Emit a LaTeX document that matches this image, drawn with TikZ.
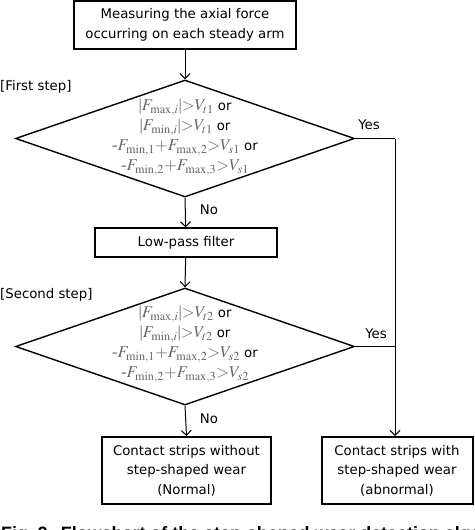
\documentclass[tikz,border=0pt]{standalone}
\usepackage{mathptmx}
\usepackage{fontspec}
\setmainfont{DejaVu Sans}
\newfontfamily\capfont{Liberation Sans}
\newfontfamily\hyfont{Liberation Serif}
\usetikzlibrary{arrows.meta,shapes.geometric}
\begin{document}
\begin{tikzpicture}[x=1pt,y=-1pt,
  every node/.style={font=\fontsize{13.3}{19.5}\selectfont},
  procbox/.style={draw, line width=1.3pt, inner sep=0pt, align=center},
  endbox/.style={draw, line width=2pt, inner sep=0pt, align=center},
  decide/.style={draw, diamond, line width=1.4pt, inner sep=0pt},
  condtext/.style={align=center, inner sep=0pt, font=\fontsize{13.3}{20}\selectfont},
  lbl/.style={inner sep=0pt},
  flow/.style={line width=1pt, -{Straight Barb[length=5pt,width=10pt,line width=1pt]}},
  plain/.style={line width=1pt}
]
\useasboundingbox (0,0) rectangle (474,530);
\clip (0,0) rectangle (474,530);
\newcommand{\mg}[1]{\textcolor{black!60}{\fontsize{16.5}{20}\selectfont$#1$}}
\newcommand{\hy}{\mbox{\hyfont -}}
\newcommand{\vb}{\mbox{\hyfont |}}

\node[procbox, minimum width=222pt, minimum height=48pt] (start) at (185,25)
  {Measuring the axial force\\occurring on each steady arm};

\node[lbl, anchor=west] (s1) at (0,87) {[First step]};
\node[decide, minimum width=339pt, minimum height=117pt] (d1) at (185,138.5) {};
\node[condtext] (t1) at (185,137.5) {%
  \mg{\vb F_{\mathrm{max},i}\vb{>}V_{t1}}\ or\\
  \mg{\vb F_{\mathrm{min},i}\vb{>}V_{t1}}\ or\\
  \mg{\hy F_{\mathrm{min},1}{+}F_{\mathrm{max},2}{>}V_{s1}}\ or\\
  \mg{\hy F_{\mathrm{min},2}{+}F_{\mathrm{max},3}{>}V_{s1}}};

\node[procbox, minimum width=182pt, minimum height=29pt] (lp) at (186,242.5) {Low-pass filter};

\node[lbl, anchor=west] (s2) at (0,295) {[Second step]};
\node[decide, minimum width=339pt, minimum height=117pt] (d2) at (185,346.5) {};
\node[condtext] (t2) at (185,344.5) {%
  \mg{\vb F_{\mathrm{max},i}\vb{>}V_{t2}}\ or\\
  \mg{\vb F_{\mathrm{min},i}\vb{>}V_{t2}}\ or\\
  \mg{\hy F_{\mathrm{min},1}{+}F_{\mathrm{max},2}{>}V_{s2}}\ or\\
  \mg{\hy F_{\mathrm{min},2}{+}F_{\mathrm{max},3}{>}V_{s2}}};

\node[endbox, minimum width=169pt, minimum height=67pt] (normal) at (186.5,470.5)
  {Contact strips without\\step-shaped wear\\(Normal)};
\node[endbox, minimum width=151pt, minimum height=67pt] (abn) at (397,470.5)
  {Contact strips with\\step-shaped wear\\(abnormal)};

\coordinate (c1) at (395,138.5);
\coordinate (c2) at (395,346.5);

\node[lbl] (yes1) at (369,125) {Yes};
\node[lbl] (yes2) at (376,334) {Yes};
\node[lbl] (no1) at (209,210) {No};
\node[lbl] (no2) at (209,419) {No};

\draw[flow] (start) -- (d1.north);
\draw[flow] (d1.south) -- (lp);
\draw[flow] (lp) -- (d2.north);
\draw[flow] (d2.south) -- (normal.north);
\draw[plain] (d1.east) -- (c1);
\draw[plain] (d2.east) -- (c2);
\draw[flow] (c1) -- (c1 |- abn.north);

\node[anchor=base west, inner sep=0pt, font=\capfont\bfseries\fontsize{17.9}{20}\selectfont] (cap) at (1,539)
  {Fig.~9\hspace{13pt}Flowchart of the step-shaped wear detection algorithm};
\end{tikzpicture}
\end{document}
